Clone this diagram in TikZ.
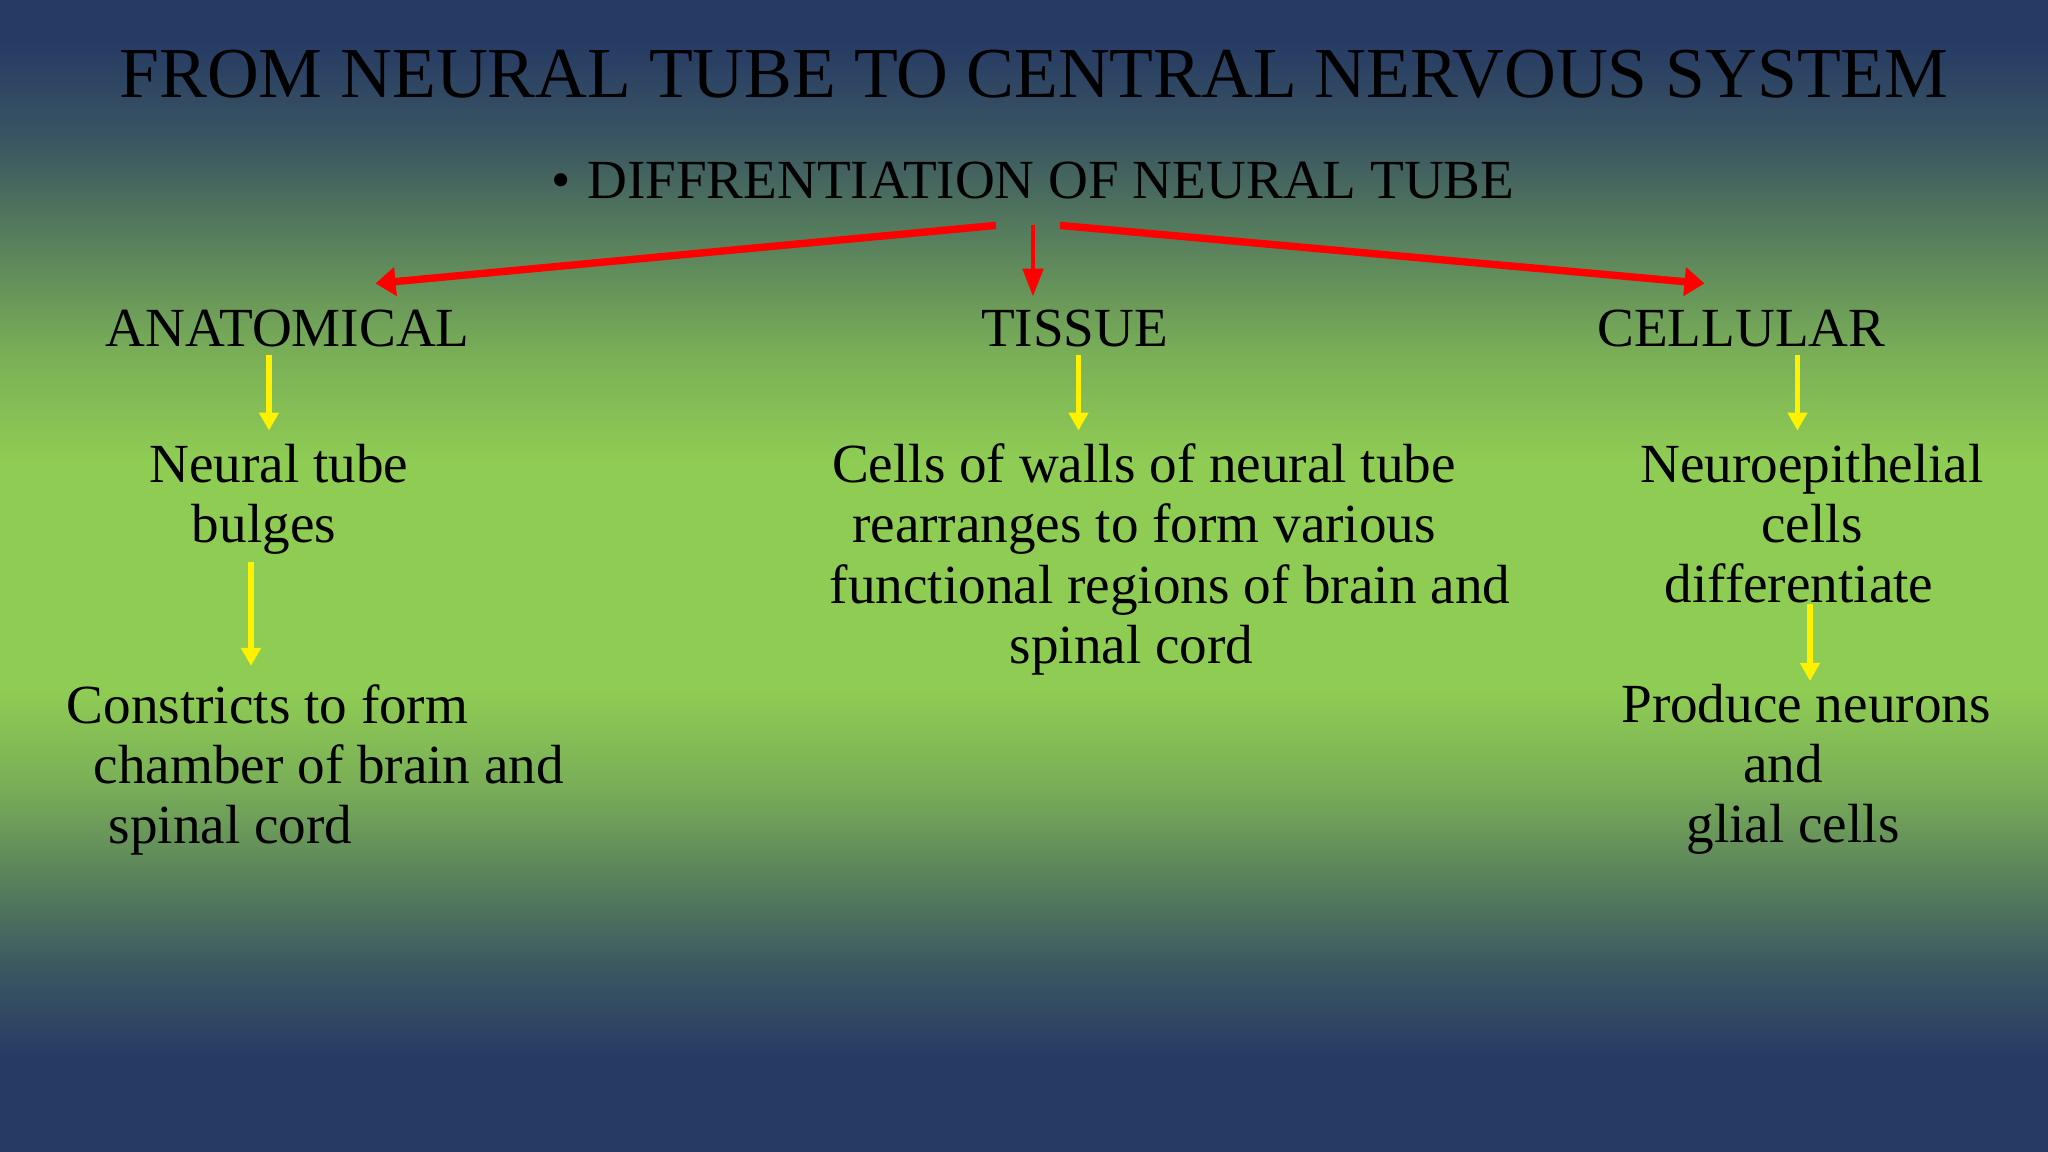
\documentclass[tikz,border=0pt]{standalone}
\usepackage{fontspec}
\setmainfont{Liberation Serif}
\usetikzlibrary{calc, positioning, arrows.meta}

\definecolor{slidenavy}{HTML}{263A64}
\definecolor{slidegreen}{HTML}{8FCC54}
\colorlet{bgmixa}{slidegreen!20!slidenavy}
\colorlet{bgmixb}{slidegreen!50!slidenavy}
\colorlet{bgmixc}{slidegreen!80!slidenavy}

% background, 25bp = bottom edge, 75bp = top edge
\pgfdeclareverticalshading{slidebg}{100bp}{color(0bp)=(slidenavy); color(29bp)=(slidenavy);
    color(33bp)=(bgmixa); color(37bp)=(bgmixb); color(41bp)=(bgmixc); color(45bp)=(slidegreen);
    color(55bp)=(slidegreen); color(59.6bp)=(bgmixc); color(64.2bp)=(bgmixb); color(68.7bp)=(bgmixa);
    color(73.3bp)=(slidenavy); color(100bp)=(slidenavy)}

\tikzset{
    heading/.style={inner sep=0pt, font=\fontsize{15.7}{17.1}\selectfont},
    bodytext/.style={inner sep=0pt, align=center, anchor=north, font=\fontsize{15.7}{17.1}\selectfont},
    redarrow/.style={draw=red, line width=2.1pt, -{Triangle[length=0.2cm,width=0.28cm]}},
    yelarrow/.style={draw=yellow, line width=1.6pt, -{Triangle[length=0.18cm,width=0.19cm]}}
}

\begin{document}
\begin{tikzpicture}[thick, >=latex]
        \useasboundingbox (0,0) rectangle (20.48,11.52);
        \shade[shading=slidebg] (0,0) rectangle (20.48,11.52);

        \node[inner sep=0pt, anchor=base, font=\fontsize{20.4}{24}\selectfont] (title) at (10.34,10.54)
            {FROM NEURAL TUBE TO CENTRAL NERVOUS SYSTEM};
        \node[heading, anchor=base] (head) at (10.33,9.535)
            {\textbullet\hspace{0.3em}DIFFRENTIATION OF NEURAL TUBE};

        \node[heading, anchor=base west] (anat) at (1.045,8.05) {ANATOMICAL};
        \node[heading, anchor=base west] (tissue) at (9.796,8.05) {TISSUE};
        \node[heading, anchor=base west] (cellular) at (15.96,8.05) {CELLULAR};

        \node[bodytext] (bulge) at (2.69,7.094) {\hspace*{0.2cm}Neural tube\\ bulges\hspace*{0.1cm}};
        \node[bodytext, align=left, anchor=north west] (constr) at (0.653,4.69)
            {Constricts to form\\ \hspace*{0.27cm}chamber of brain and\\ \hspace*{0.42cm}spinal cord};
        \node[bodytext] (walls) at (11.44,7.094)
            {Cells of walls of neural tube\\ rearranges to form various\\
             \hspace*{0.52cm}functional regions of brain and\\ spinal cord\hspace*{0.25cm}};
        \node[bodytext] (neuroep) at (18.12,7.094) {Neuroepithelial\\ cells\\ differentiate\hspace*{0.26cm}};
        \node[bodytext] (produce) at (17.93,4.69) {\hspace*{0.26cm}Produce neurons\\ and\rule{0.2cm}{0pt}\\ glial cells};

        \draw[redarrow] ([xshift=-0.37cm,yshift=-0.25cm]head.south) -- ([xshift=-0.955cm,yshift=0.256cm]anat.north east);
        \draw[redarrow, line width=1.4pt, -{Triangle[length=0.28cm,width=0.2cm]}]
            ([yshift=-0.25cm]head.south) -- ([yshift=0.125cm]head.south |- tissue.north);
        \draw[redarrow] ([xshift=0.27cm,yshift=-0.25cm]head.south) -- ([xshift=1.085cm,yshift=0.256cm]cellular.north west);

        \draw[yelarrow] ([yshift=-0.06cm]bulge.north |- anat.south) -- ([yshift=0.12cm]bulge.north);
        \draw[yelarrow] ([xshift=-0.18cm,yshift=-0.06cm]bulge.south) -- ([xshift=-0.18cm,yshift=0.17cm]bulge.south |- constr.north);
        \draw[yelarrow] ([xshift=0.04cm,yshift=-0.06cm]tissue.south) -- ([xshift=0.04cm,yshift=0.12cm]tissue.south |- walls.north);
        \draw[yelarrow] ([xshift=0.56cm,yshift=-0.06cm]cellular.south) -- ([xshift=0.56cm,yshift=0.12cm]cellular.south |- neuroep.north);
        \draw[yelarrow] ([xshift=-0.02cm]neuroep.south) -- ([xshift=-0.02cm,yshift=0.02cm]neuroep.south |- produce.north);
    \end{tikzpicture}
\end{document}
